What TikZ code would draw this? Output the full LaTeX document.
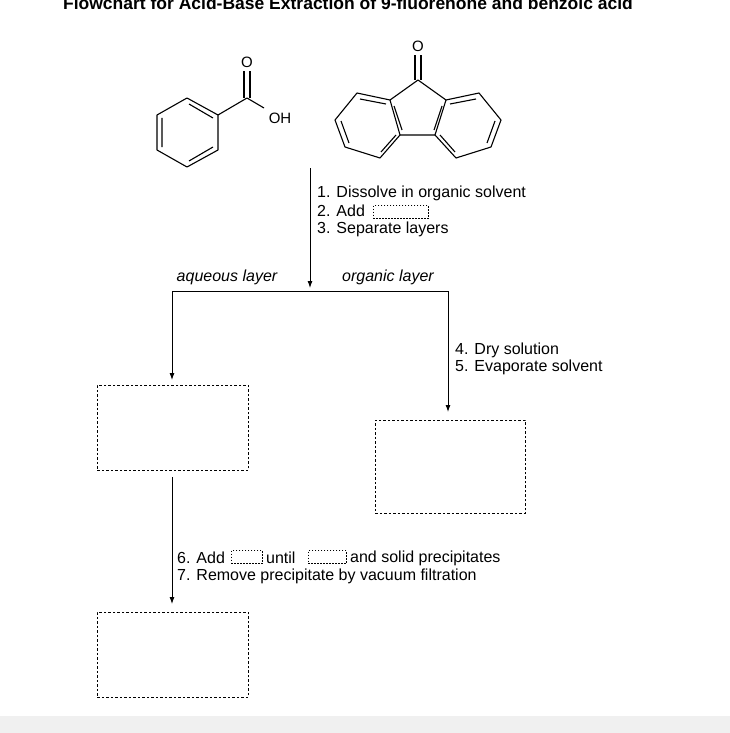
\documentclass[tikz,border=0pt]{standalone}
\usepackage{fontspec}
\setmainfont{Liberation Sans}
\usetikzlibrary{arrows.meta}
\begin{document}
\begin{tikzpicture}[x=1pt,y=-1pt,
  bond/.style={line width=1.1pt,line join=round},
  arr/.style={line width=0.9pt,-{Latex[length=7pt,width=5pt]}},
  dbox/.style={draw,dashed,dash pattern=on 2.5pt off 2pt,line width=0.7pt},
  blank/.style={draw,dashed,dash pattern=on 1.5pt off 1.5pt,line width=0.6pt,minimum width=31pt,minimum height=13pt,inner sep=0pt},
  lbl/.style={font=\fontsize{16}{18}\selectfont,align=left,inner sep=0pt},
  lay/.style={font=\fontsize{16}{18}\selectfont\itshape,inner sep=0pt},
  atom/.style={font=\fontsize{15}{17}\selectfont,inner sep=1pt}]
\useasboundingbox (0,0) rectangle (730,733);
\fill[gray!12] (0,716) rectangle (730,733);
\node[font=\bfseries\fontsize{17.5}{20}\selectfont] (title) at (348,3) {Flowchart for Acid-Base Extraction of 9-fluorenone and benzoic acid};
% benzoic acid
\draw[bond] (187,98)--(218,115)--(218,150)--(187,167)--(157,150)--(157,115)--cycle;
\draw[bond] (189,104)--(213,118) (162,118)--(162,147) (189,161)--(213,147);
\draw[bond] (218,115)--(247,98)--(264,108);
\draw[bond] (244,98)--(244,71) (250,98)--(250,71);
\node[atom] (o1) at (247,62) {O};
\node[atom] (oh) at (280,118) {OH};
% fluorenone
\draw[bond] (418,80)--(390,100)--(400,135)--(435,135)--(446,100)--cycle;
\draw[bond] (390,100)--(357,93)--(335,120)--(345,147)--(380,158)--(400,135);
\draw[bond] (446,100)--(479,93)--(501,120)--(491,147)--(456,158)--(435,135);
\draw[bond] (394,106)--(402,130) (442,106)--(434,130);
\draw[bond] (360,99)--(386,104) (341,121)--(349,143) (381,152)--(396,135);
\draw[bond] (476,99)--(450,104) (495,121)--(487,143) (455,152)--(440,135);
\draw[bond] (415,80)--(415,55) (421,80)--(421,55);
\node[atom] (o2) at (418,46) {O};
% flow
\coordinate (top) at (310,168);
\coordinate (jl) at (172,291);
\coordinate (jr) at (448,291);
\node[dbox,minimum width=151pt,minimum height=85pt,anchor=north west] (bl) at (97,385) {};
\node[dbox,minimum width=150pt,minimum height=93pt,anchor=north west] (br) at (375,420) {};
\node[dbox,minimum width=151pt,minimum height=85pt,anchor=north west] (bb) at (97,612) {};
\draw[arr] (top)--(310,288);
\draw[line width=0.9pt] (jl)--(jr);
\draw[arr] (jl)--(172,380);
\draw[arr] (jr)--(448,412);
\draw[arr] (172,477)--(172,604);
\node[lbl,anchor=west] (s1) at (317,193) {1. Dissolve in organic solvent};
\node[lbl,anchor=west] (s2) at (317,211) {2. Add};
\node[lbl,anchor=west] (s3) at (317,229) {3. Separate layers};
\node[blank,minimum width=55pt,anchor=west] (b1) at (373,212) {};
\node[lay] (aq) at (227,277) {aqueous layer};
\node[lay] (org) at (388,277) {organic layer};
\node[lbl,anchor=west] (s4) at (455,350) {4. Dry solution};
\node[lbl,anchor=west] (s5) at (455,367) {5. Evaporate solvent};
\node[lbl,anchor=west] (s6) at (177,558) {6. Add};
\node[blank,anchor=west] (b2) at (231,557) {};
\node[lbl,anchor=west] (s6b) at (266,558) {until};
\node[blank,minimum width=38pt,anchor=west] (b3) at (308,557) {};
\node[lbl,anchor=west] (s6c) at (350,558) {and solid precipitates};
\node[lbl,anchor=west] (s7) at (177,576) {7. Remove precipitate by vacuum filtration};
\end{tikzpicture}
\end{document}
